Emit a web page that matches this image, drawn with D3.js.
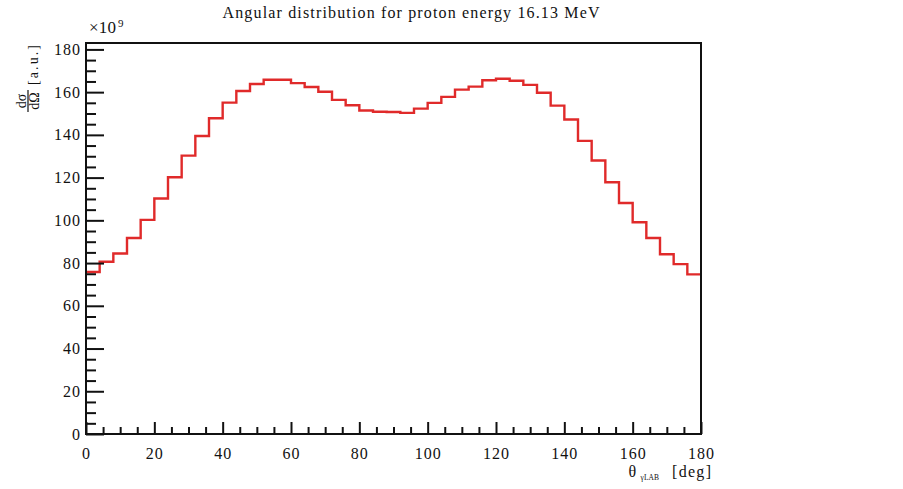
<!DOCTYPE html>
<html>
<head>
<meta charset="utf-8">
<script src="https://cdn.jsdelivr.net/npm/d3@7"></script>
<style>
  body { margin: 0; background: #fff; }
  svg { display: block; }
  text { font-family: "Liberation Serif", "DejaVu Serif", serif; fill: #111; }
</style>
</head>
<body>
<svg id="chart" width="903" height="489"></svg>
<script>
// bin lower edges [deg], 4 deg wide bins
const binStarts = [0, 4, 8, 12, 16, 20, 24, 28, 32, 36, 40, 44, 48, 52, 56, 60, 64, 68, 72, 76,
  80, 84, 88, 92, 96, 100, 104, 108, 112, 116, 120, 124, 128, 132, 136, 140, 144, 148, 152, 156,
  160, 164, 168, 172, 176];
const binEnd = 180;
// dsigma/dOmega in units of 1e9 a.u.
const counts = [75.8, 80.6, 84.5, 91.7, 100.2, 110.2, 120.2, 130.3, 139.5, 147.8,
  155.1, 160.5, 163.8, 165.8, 165.8, 164.2, 162.4, 160.2, 156.4, 153.9,
  151.4, 150.8, 150.7, 150.3, 152.3, 155.0, 157.8, 161.2, 162.6, 165.6,
  166.3, 165.3, 163.4, 159.7, 153.7, 147.2, 137.2, 128.0, 117.8, 108.1,
  99.1, 91.7, 84.1, 79.5, 74.7];
const xMajor = [0, 20, 40, 60, 80, 100, 120, 140, 160, 180];
const yMajor = [0, 20, 40, 60, 80, 100, 120, 140, 160, 180];

const frameL = 86, frameR = 701, frameT = 43, frameB = 434;

const svg = d3.select("#chart");

const x = d3.scaleLinear().domain([0, 180]).range([frameL, frameR]);
const y = d3.scaleLinear().domain([0, 183]).range([frameB, frameT]);

// minor ticks every 5
const xMinor = d3.range(0, 181, 5).filter(v => v % 20 !== 0);
const yMinor = d3.range(0, 181, 5).filter(v => v % 20 !== 0);

// histogram outline
const pts = binStarts.map((b, i) => [b, counts[i]]);
pts.push([binEnd, counts[counts.length - 1]]);

const line = d3.line()
    .x(d => x(d[0]))
    .y(d => y(d[1]))
    .curve(d3.curveStepAfter);

svg.append("path")
    .datum(pts)
    .attr("d", line)
    .attr("fill", "none")
    .attr("stroke", "#e02a2a")
    .attr("stroke-width", 2.4);

// axes (ticks drawn inside the frame)
svg.append("g")
    .attr("transform", `translate(0,${frameB})`)
    .call(d3.axisBottom(x).tickValues(xMajor).tickSize(-12).tickPadding(14).tickFormat(d3.format("d")));
svg.append("g")
    .attr("transform", `translate(0,${frameB})`)
    .call(d3.axisBottom(x).tickValues(xMinor).tickSize(-7).tickFormat(""));

svg.append("g")
    .attr("transform", `translate(${frameL},0)`)
    .call(d3.axisLeft(y).tickValues(yMajor).tickSize(-18).tickPadding(5).tickFormat(d3.format("d")));
svg.append("g")
    .attr("transform", `translate(${frameL},0)`)
    .call(d3.axisLeft(y).tickValues(yMinor).tickSize(-10).tickFormat(""));

svg.selectAll(".domain").remove();
svg.selectAll(".tick line").attr("stroke", "#111").attr("stroke-width", 2);
svg.selectAll(".tick text")
    .attr("font-size", 16)
    .attr("letter-spacing", 1)
    .attr("font-family", "Liberation Serif")
    .attr("fill", "#111");

// frame
svg.append("rect")
    .attr("x", frameL).attr("y", frameT)
    .attr("width", frameR - frameL).attr("height", frameB - frameT)
    .attr("fill", "none")
    .attr("stroke", "#111")
    .attr("stroke-width", 2);

// title
svg.append("text")
    .attr("x", 411).attr("y", 18)
    .attr("text-anchor", "middle")
    .attr("font-size", 16)
    .attr("textLength", 377)
    .text("Angular distribution for proton energy 16.13 MeV");

// exponent
svg.append("text")
    .attr("x", 89).attr("y", 33)
    .attr("font-size", 17)
    .attr("textLength", 27)
    .text("\u00d710");
svg.append("text")
    .attr("x", 118).attr("y", 27)
    .attr("font-size", 11)
    .text("9");

// y label: dsigma/dOmega [a.u.]
const yl = svg.append("g").attr("transform", "translate(28,101) rotate(-90)");
yl.append("text")
    .attr("x", 0).attr("y", -2)
    .attr("text-anchor", "middle")
    .attr("font-size", 14)
    .text("d\u03c3");
yl.append("line")
    .attr("x1", -11).attr("x2", 11)
    .attr("y1", 0).attr("y2", 0)
    .attr("stroke", "#111").attr("stroke-width", 1.2);
yl.append("text")
    .attr("x", 0).attr("y", 10.5)
    .attr("text-anchor", "middle")
    .attr("font-size", 14)
    .text("d\u03a9");
yl.append("text")
    .attr("x", 36).attr("y", 9.5)
    .attr("text-anchor", "middle")
    .attr("font-size", 14)
    .attr("textLength", 40)
    .text("[a.u.]");

// x label
svg.append("text")
    .attr("x", 628.5).attr("y", 477)
    .attr("font-size", 16)
    .text("\u03b8");
svg.append("text")
    .attr("x", 640.5).attr("y", 480)
    .attr("font-size", 7.5)
    .attr("textLength", 18.5)
    .attr("fill", "#555")
    .text("\u03b3LAB");
svg.append("text")
    .attr("x", 672).attr("y", 477)
    .attr("font-size", 16)
    .attr("textLength", 39)
    .text("[deg]");
</script>
</body>
</html>
